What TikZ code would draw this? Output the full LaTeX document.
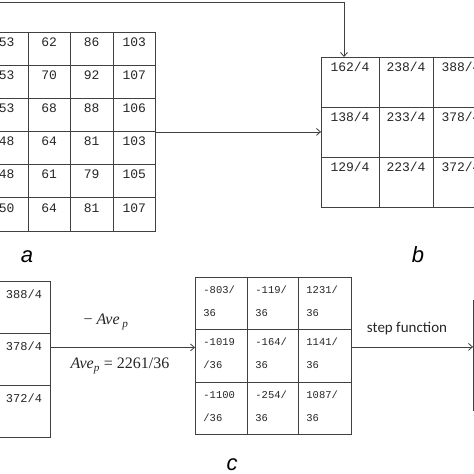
\documentclass[tikz,border=0pt]{standalone}
\usepackage{fontspec}
\setmainfont{Liberation Serif}
\newfontfamily\monof{Liberation Mono}
\newfontfamily\calib{Carlito}
\newfontfamily\arialf{Liberation Sans}
\usetikzlibrary{arrows.meta,calc}
\definecolor{ln}{HTML}{404040}
\definecolor{tx}{HTML}{262626}
\newcommand\ccell[5]{%
  \node[cellC] (#5-1) at (#1+8,#2+13) {#3};
  \node[cellC] (#5-2) at (#1+8,#2+36) {#4};}
\begin{document}
\begin{tikzpicture}[x=1pt,y=-1pt, color=ln, line width=0.8pt,
  arr/.style={-{Straight Barb[length=4pt,width=7pt]}},
  tabbox/.style={draw=ln, line width=0.8pt, inner sep=0pt, anchor=north west},
  cellA/.style={font=\monof\fontsize{13}{15}\selectfont, inner sep=0pt, text=tx},
  cellD/.style={font=\monof\fontsize{12}{14}\selectfont, inner sep=0pt, text=tx},
  cellC/.style={font=\monof\fontsize{10.5}{12}\selectfont, inner sep=0pt, text=tx, anchor=west},
  lab/.style={font=\arialf\itshape\fontsize{22}{24}\selectfont, text=black},
  mth/.style={font=\fontsize{16}{18}\selectfont, text=tx}]
\useasboundingbox (0,0) rectangle (474,474);
\clip (0,0) rectangle (474,474);

% ---- table a ----
\node[tabbox, minimum width=169.5pt, minimum height=199pt] (A) at (-14.5,32) {};
\foreach \x in {28,70.5,113} \draw (\x,32) -- (\x,231);
\foreach \y in {65.2,98.3,131.5,164.7,197.8} \draw (-14.5,\y) -- (155,\y);
\foreach \row [count=\r from 0] in {{53,62,86,103},{53,70,92,107},{53,68,88,106},{48,64,81,103},{48,61,79,105},{50,64,81,107}}{
  \foreach \v [count=\c from 0] in \row {
    \node[cellA] (a-\r-\c) at ({-14.5+42.5*(\c+0.5)},{32+33.17*\r+10}) {\v};
  }
}

% ---- table b ----
\node[tabbox, minimum width=170pt, minimum height=150pt] (B) at (321,57) {};
\foreach \x in {379,433} \draw (\x,57) -- (\x,207);
\foreach \y in {107,157} \draw (321,\y) -- (491,\y);
\foreach \row [count=\r from 0] in {{162/4,238/4,388/4},{138/4,233/4,378/4},{129/4,223/4,372/4}}{
  \foreach \v [count=\c from 0] in \row {
    \pgfmathsetmacro\cx{{350,406,461}[\c]}
    \node[cellA] (b-\r-\c) at (\cx,{57+50*\r+10}) {\v};
  }
}

% connectors a -> b
\coordinate (ts) at (-5,2);
\draw[arr] (ts) -| ([xshift=23pt]B.north west);
\draw[arr] (A.east) -- (A.east -| B.west);

\node[lab] (la) at (27,257) {a};
\node[lab] (lb) at (418,255) {b};
\node[lab] (lc) at (232,465) {c};

% ---- table d (left, partial) ----
\node[tabbox, minimum width=70pt, minimum height=156pt] (D) at (-20,281) {};
\foreach \y in {333,385} \draw (-20,\y) -- (50,\y);
\node[cellD] (d-0) at (24,294) {388/4};
\node[cellD] (d-1) at (24,346) {378/4};
\node[cellD] (d-2) at (24,398) {372/4};

% ---- table c ----
\node[tabbox, minimum width=156pt, minimum height=157pt] (C) at (195,277) {};
\foreach \x in {247,298} \draw (\x,277) -- (\x,434);
\foreach \y in {329,382} \draw (195,\y) -- (351,\y);
\ccell{195}{277}{-803/}{36}{c00}
\ccell{247}{277}{-119/}{36}{c01}
\ccell{298}{277}{1231/}{36}{c02}
\ccell{195}{329}{-1019}{/36}{c10}
\ccell{247}{329}{-164/}{36}{c11}
\ccell{298}{329}{1141/}{36}{c12}
\ccell{195}{382}{-1100}{/36}{c20}
\ccell{247}{382}{-254/}{36}{c21}
\ccell{298}{382}{1087/}{36}{c22}

% connector d -> c
\draw[arr] ([yshift=12pt]D.east) -- ([yshift=12pt]D.east -| C.west);
\node[mth] (m1) at (106,322) {−\ \textit{Ave}\,\textsubscript{\textit{p}}};
\node[mth] (m2) at (120,366) {\textit{Ave}\textsubscript{\textit{p}} = 2261/36};

% ---- table e (right edge only) ----
\node[tabbox, minimum width=40pt, minimum height=109pt, line width=1.5pt] (E) at (473,300) {};
\draw[arr] ([yshift=9pt]C.east) -- ([yshift=9pt]C.east -| E.west);
\node[font=\calib\fontsize{15}{17}\selectfont, text=tx] (sf) at (407,329) {step function};
\end{tikzpicture}
\end{document}
